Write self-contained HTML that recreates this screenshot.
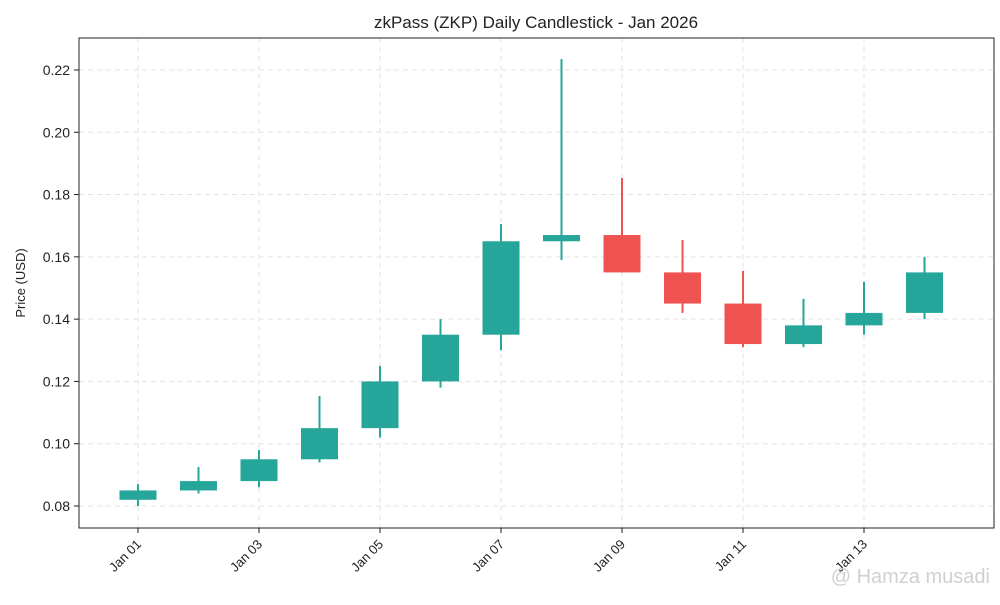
<!DOCTYPE html>
<html><head><meta charset="utf-8"><style>
body{margin:0;background:#fff;font-family:"Liberation Sans",sans-serif}
svg text{font-family:"Liberation Sans",sans-serif;fill:#222}
</style></head><body>
<svg id="c" width="1000" height="600">
<text x="536" y="28" font-size="17" text-anchor="middle">zkPass (ZKP) Daily Candlestick - Jan 2026</text>
<text transform="translate(25,283) rotate(-90)" font-size="13" text-anchor="middle">Price (USD)</text>
<g id="grid"></g><g id="marks"></g><g id="axes"></g>
<rect x="79" y="38" width="915" height="490" fill="none" stroke="#222" stroke-width="1"/>
<text x="990" y="583" font-size="20" text-anchor="end" fill="#ccc" style="fill:#d0d0d0">@ Hamza musadi</text>
</svg>
<script>
const days=["Jan 01","Jan 02","Jan 03","Jan 04","Jan 05","Jan 06","Jan 07","Jan 08","Jan 09","Jan 10","Jan 11","Jan 12","Jan 13","Jan 14"];
const opens=[0.082,0.085,0.088,0.095,0.105,0.120,0.135,0.165,0.167,0.155,0.145,0.132,0.138,0.142];
const highs=[0.087,0.0925,0.098,0.1153,0.125,0.140,0.1705,0.2235,0.1853,0.1654,0.1555,0.1465,0.152,0.160];
const lows=[0.080,0.084,0.086,0.094,0.102,0.118,0.130,0.159,0.155,0.142,0.131,0.131,0.135,0.140];
const closes=[0.085,0.088,0.095,0.105,0.120,0.135,0.165,0.167,0.155,0.145,0.132,0.138,0.142,0.155];
const yTicks=[0.08,0.10,0.12,0.14,0.16,0.18,0.20,0.22];
const xTickIdx=[0,2,4,6,8,10,12];
const ns="http://www.w3.org/2000/svg";
const X=i=>138+i*60.5;
const Y=v=>506-(v-0.08)/0.02*62.29;
function mk(p,t,a){const e=document.createElementNS(ns,t);for(const k in a)e.setAttribute(k,a[k]);document.getElementById(p).appendChild(e);return e;}
yTicks.forEach(v=>{
 let g=mk('grid','line',{x1:79,x2:994,y1:Y(v),y2:Y(v),stroke:'#e3e3e3','stroke-dasharray':'5,4'});
 
 
 let t=mk('axes','line',{x1:74,x2:79,y1:Y(v),y2:Y(v),stroke:'#222'});
 
 
 let l=mk('axes','text',{x:70,y:Y(v)+5,'font-size':14,'text-anchor':'end'});l.textContent=v.toFixed(2);
 
 
});
xTickIdx.forEach(i=>{
 let g=mk('grid','line',{x1:X(i),x2:X(i),y1:38,y2:528,stroke:'#e3e3e3','stroke-dasharray':'5,4'});
 
 
 let t=mk('axes','line',{x1:X(i),x2:X(i),y1:528,y2:533,stroke:'#222'});
 
 
 let l=mk('axes','text',{x:X(i)+4,y:545,'font-size':13,'text-anchor':'end',transform:`rotate(-45 ${X(i)+4} 545)`});l.textContent=days[i];
 
 
});
days.forEach((d,i)=>{
 const up=closes[i]>=opens[i],col=up?'#26a69a':'#ef5350';
 let w=mk('marks','line',{x1:X(i),x2:X(i),y1:Y(highs[i]),y2:Y(lows[i]),stroke:col,'stroke-width':2});
 
 
 const t=Y(Math.max(opens[i],closes[i])),b=Y(Math.min(opens[i],closes[i]));
 let r=mk('marks','rect',{x:X(i)-18.5,y:t,width:37,height:Math.max(1,b-t),fill:col});
 
 
});
</script>
</body></html>
